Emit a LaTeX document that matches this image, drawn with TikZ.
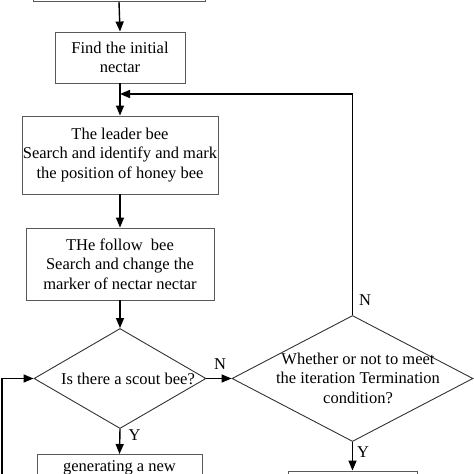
\documentclass[tikz,border=0pt]{standalone}
\usepackage{fontspec}
\setmainfont{Liberation Serif}
\usetikzlibrary{shapes.geometric,arrows.meta}
\begin{document}
\begin{tikzpicture}[x=1pt,y=-1pt,
  txt/.style={font=\fontsize{16.5}{19.5}\selectfont, align=center, inner sep=0pt},
  box/.style={draw=black!65, line width=0.9pt, rectangle, inner sep=0pt, align=center,
    font=\fontsize{16.5}{19.5}\selectfont},
  dia/.style={draw=black!80, line width=0.9pt, diamond, inner sep=0pt},
  arr/.style={draw=black, line width=1.4pt, -{Triangle[length=10pt,width=8pt]}},
  lbl/.style={font=\fontsize{16.5}{19.5}\selectfont, inner sep=0pt}]
\useasboundingbox (0,0) rectangle (474,474);
\node[box, minimum width=172pt, minimum height=40pt] (top) at (119,-18.5) {};
\node[box, minimum width=130pt, minimum height=51pt] (find) at (120,57.5) {Find the initial\\nectar};
\node[box, minimum width=196pt, minimum height=78pt] (leader) at (120,155) {The leader bee\\Search and identify and mark\\the position of honey bee};
\node[box, minimum width=188pt, minimum height=72pt] (follow) at (120,264) {THe follow\ \ bee\\Search and change the\\marker of nectar nectar};
\node[dia, minimum width=172pt, minimum height=100pt] (d1) at (120,378.5) {};
\node[txt] (d1t) at (128,379) {Is there a scout bee?};
\node[dia, minimum width=241pt, minimum height=126pt] (d2) at (352.5,378.5) {};
\node[txt] (d2t) at (358,378) {Whether or not to meet\\the iteration Termination\\condition?};
\node[box, minimum width=165pt, minimum height=50pt, anchor=north, text height=15pt, text depth=34pt, inner ysep=2pt] (gen) at (119.5,454) {generating a new};
\node[box, minimum width=129pt, minimum height=40pt] (fin) at (352.5,491) {};
\coordinate (join) at (120,94);
\coordinate (loopstart) at (2,490);
\draw[arr] (top.south) -- (find.north);
\draw[arr] (find.south) -- (leader.north);
\draw[arr] (leader.south) -- (follow.north);
\draw[arr] (follow.south) -- (d1.north);
\draw[arr] (d1.east) -- (d2.west);
\draw[arr] (d1.south) -- (gen.north);
\draw[arr] (d2.south) -- (fin.north);
\draw[arr] (d2.north) |- (join);
\draw[arr] (loopstart) |- (d1.west);
\node[lbl] (n1) at (365,300) {N};
\node[lbl] (n2) at (220,364) {N};
\node[lbl] (y1) at (134.5,435) {Y};
\node[lbl] (y2) at (363,452) {Y};
\end{tikzpicture}
\end{document}
